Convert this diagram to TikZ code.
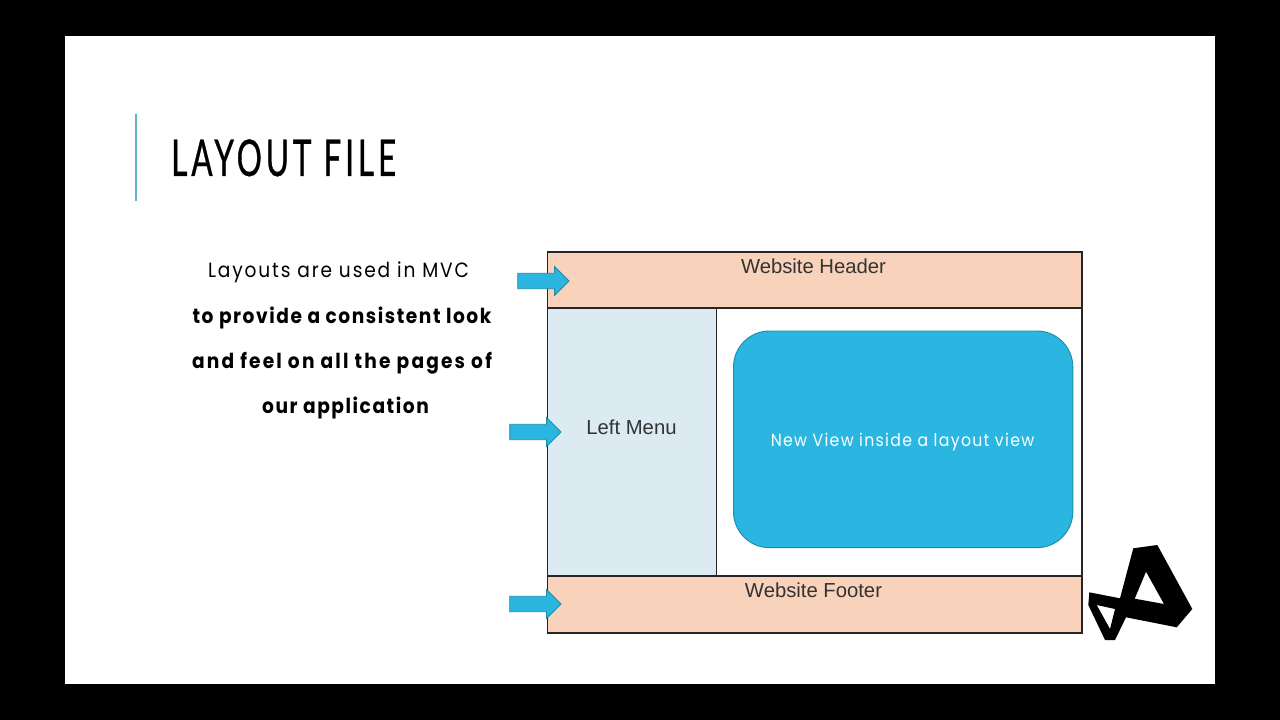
\documentclass[tikz,border=0pt]{standalone}
\usepackage{fontspec}
\setmainfont{Liberation Sans}
\newfontfamily\titlefont[FakeStretch=0.62,LetterSpace=7.8,FakeBold=0.6]{Lato}
\newfontfamily\bodyfont[FakeStretch=0.9,LetterSpace=7.5]{Poppins}
\usetikzlibrary{positioning,shapes.arrows}
\definecolor{peach}{HTML}{F8D2BA}
\definecolor{paleblue}{HTML}{DCEBF2}
\definecolor{viewblue}{HTML}{2BB6E2}
\definecolor{viewedge}{HTML}{1E8CA8}
\definecolor{ruleblue}{HTML}{62B4C6}
\definecolor{labelgrey}{HTML}{333333}

\tikzset{
    panel/.style={draw=black!85, line width=1pt, anchor=north west, inner sep=0pt, outer sep=0pt},
    panellabel/.style={font=\fontsize{15.2}{17}\selectfont, text=labelgrey, inner sep=0pt},
    bodyline/.style={font=\bodyfont\fontsize{15.5}{18}\selectfont, inner sep=0pt, anchor=base},
    boldline/.style={bodyline, font=\bodyfont\bfseries\fontsize{15.5}{18}\selectfont},
    pointer/.style={single arrow, draw=viewedge, fill=viewblue, line width=0.6pt,
        inner xsep=0pt, inner ysep=5.5pt, outer sep=0pt, minimum height=38.5pt,
        single arrow head extend=5pt, single arrow head indent=0pt}
}

\begin{document}
\begin{tikzpicture}[x=0.75pt, y=-0.75pt]
    \fill[black] (0,0) rectangle (1280,720);
    \fill[white] (65,36) rectangle (1215,684);
    \useasboundingbox (0,0) rectangle (1280,720);

    % title
    \fill[ruleblue] (135.2,114) rectangle (137.4,201);
    \node[anchor=base west, inner sep=0pt, font=\titlefont\fontsize{38}{40}\selectfont] (title) at (171,176) {LAYOUT FILE};

    % text on the left
    \node[bodyline] (line1) at (338.5,277.5) {\addfontfeature{LetterSpace=9}Layouts are used in MVC};
    \node[boldline] (line2) at (342,323) {to provide a consistent look};
    \node[boldline] (line3) at (342,368) {\addfontfeature{LetterSpace=10.5}and feel on all the pages of};
    \node[boldline] (line4) at (345.5,413) {our application};

    % page layout
    \node[panel, fill=peach, minimum width=400.75pt, minimum height=42pt] (header) at (547.5,252) {};
    \node[panel, fill=paleblue, minimum width=126.75pt, minimum height=201pt] (menu) at (header.south west) {};
    \node[panel, fill=white, minimum width=274pt, minimum height=201pt] (main) at (menu.north east) {};
    \node[panel, fill=peach, minimum width=400.75pt, minimum height=42.75pt] (footer) at (menu.south west) {};
    \node[draw=viewedge, fill=viewblue, line width=0.7pt, rounded corners=27pt, anchor=north west,
        minimum width=254.5pt, minimum height=162.5pt, inner sep=0pt, outer sep=0pt] (view) at (733.5,331) {};

    \node[panellabel] (headertext) at (813.5,266) {Website Header};
    \node[panellabel] (menutext) at (631.5,427.5) {Left Menu};
    \node[panellabel] (footertext) at (813.5,590) {Website Footer};
    \node[text=white, inner sep=0pt, font=\bodyfont\fontsize{13.1}{15}\selectfont] (viewtext) at (902.5,442) {New View inside a layout view};

    % arrows
    \node[pointer] (arrow1) at (539.5,281) {};
    \node[pointer] (arrow2) at (531.5,432) {};
    \node[pointer] (arrow3) at (531.5,604) {};

    % logo
    \fill[black, even odd rule]
        (1133.3,548.3) -- (1157.3,545) -- (1192.3,609) -- (1176.7,627.3) -- (1126,617.3)
        -- (1115,640) -- (1105,640) -- (1088.3,605) -- (1089.3,592.3) -- (1120,598.3) -- cycle
        (1146,571.7) -- (1164,604) -- (1134.7,598.7) -- cycle
        (1096.7,605) -- (1115,609) -- (1110,629) -- cycle;
\end{tikzpicture}
\end{document}
